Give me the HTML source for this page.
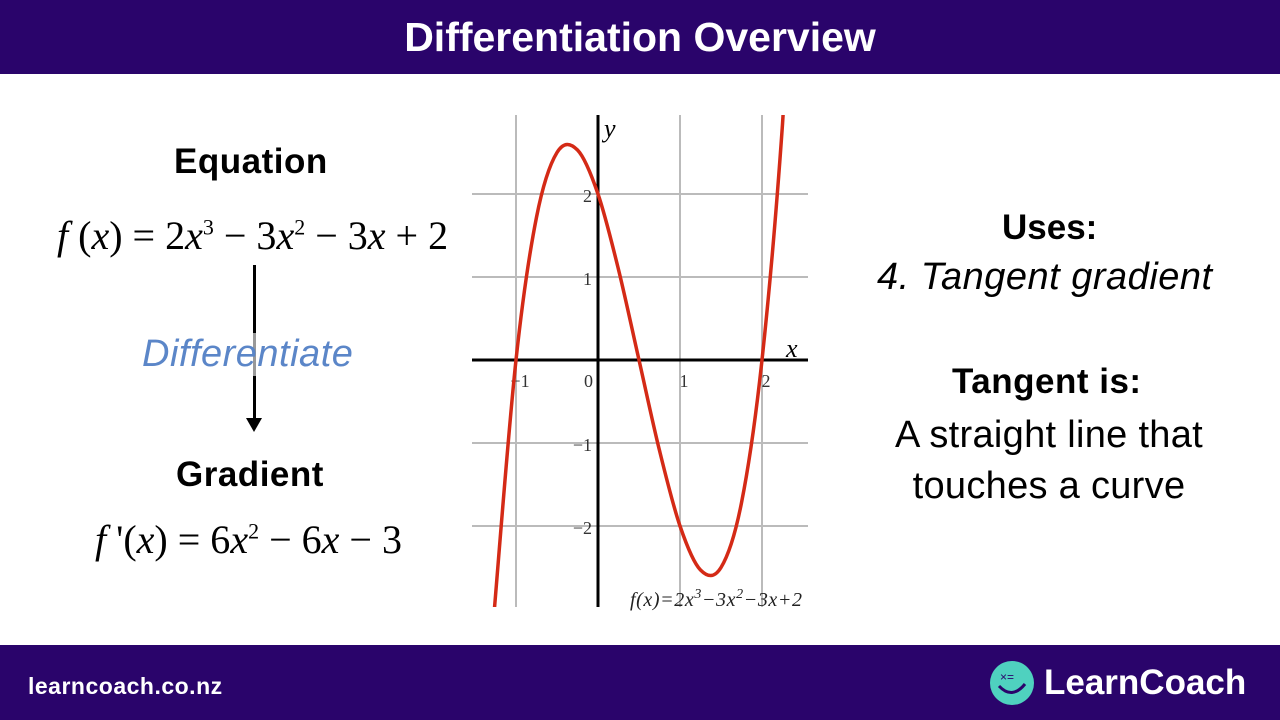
<!DOCTYPE html>
<html><head><meta charset="utf-8">
<style>
body{margin:0;width:1280px;height:720px;overflow:hidden;background:#fff;font-family:"Liberation Sans","DejaVu Sans",sans-serif;position:relative}
.hdr{position:absolute;left:0;top:0;width:1280px;height:74px;background:#2a046b;color:#fff;font-weight:bold;font-size:41px;text-align:center;line-height:74px}
.ftr{position:absolute;left:0;top:645px;width:1280px;height:75px;background:#2a046b;color:#fff}
.t{position:absolute;white-space:nowrap}
.math{font-family:"Liberation Serif",serif;font-size:40px}
</style></head><body>
<div class="hdr">Differentiation Overview</div>

<div class="t" style="left:174px;top:142px;font-size:35px;font-weight:bold;letter-spacing:0.5px">Equation</div>
<div class="t math" style="left:57px;top:212px"><i>f</i> (<i>x</i>) = 2<i>x</i><sup style="font-size:22px">3</sup> − 3<i>x</i><sup style="font-size:22px">2</sup> − 3<i>x</i> + 2</div>
<div style="position:absolute;left:253px;top:265px;width:3px;height:160px;background:#000"></div>
<div style="position:absolute;left:246px;top:418px;width:0;height:0;border-left:8px solid transparent;border-right:8px solid transparent;border-top:14px solid #000"></div>
<div class="t" style="left:142px;top:333px;font-size:38px;font-style:italic;color:#5b86c8;background:rgba(255,255,255,0.6);letter-spacing:0.5px">Differentiate</div>
<div class="t" style="left:176px;top:455px;font-size:35px;font-weight:bold;letter-spacing:0.5px">Gradient</div>
<div class="t math" style="left:95px;top:516px"><i>f</i> '(<i>x</i>) = 6<i>x</i><sup style="font-size:22px">2</sup> − 6<i>x</i> − 3</div>

<div class="t" style="left:1002px;top:208px;font-size:35px;font-weight:bold">Uses:</div>
<div class="t" style="left:877px;top:256px;font-size:38px;font-style:italic;letter-spacing:0.5px">4. Tangent gradient</div>
<div class="t" style="left:952px;top:362px;font-size:35px;font-weight:bold;letter-spacing:0.5px">Tangent is:</div>
<div class="t" style="left:869px;top:410px;font-size:38px;text-align:center;width:360px;white-space:normal;line-height:51px;letter-spacing:0.3px">A straight line that touches a curve</div>

<svg id="chart" style="position:absolute;left:0;top:0" width="1280" height="720"></svg>

<div class="ftr">
<div class="t" style="left:28px;top:28px;font-size:23px;font-weight:bold;letter-spacing:0.5px">learncoach.co.nz</div>
<svg style="position:absolute;left:989px;top:15px" width="46" height="46"><circle cx="23" cy="23" r="22" fill="#4fd1bf"/><path d="M10 26 Q23 40 36 24" stroke="#2a046b" stroke-width="3" fill="none"/><text x="11" y="21" font-size="12" fill="#2a046b">×=</text></svg>
<div class="t" style="left:1044px;top:18px;font-size:35px;font-weight:bold">LearnCoach</div>
</div>

<script>
const xs=[-1.3,-1.25,-1,-0.75,-0.5,-0.25,0,0.25,0.5,0.75,1,1.25,1.5,1.75,2,2.25,2.5];
const ys=[-3.56,-2.84,0,1.72,2.5,2.53,2,1.09,0,-1.09,-2,-2.53,-2.5,-1.72,0,2.84,7];
const xTicks=[-1,0,1,2];
const yTicks=[-2,-1,1,2];
const NS="http://www.w3.org/2000/svg";
const svg=document.getElementById('chart');
const X=v=>598+v*82, Y=v=>360-v*83;
const L=472,R=808,T=115,B=607;
function mk(tag,a){const e=document.createElementNS(NS,tag);for(const k in a)e.setAttribute(k,a[k]);svg.appendChild(e);return e;}
const defs=mk('defs',{});const cp=document.createElementNS(NS,'clipPath');cp.setAttribute('id','c');
const cr=document.createElementNS(NS,'rect');cr.setAttribute('x',L);cr.setAttribute('y',T);cr.setAttribute('width',R-L);cr.setAttribute('height',B-T);cp.appendChild(cr);defs.appendChild(cp);
xTicks.forEach(v=>{if(v===0)return;const l=mk('line',{x1:X(v),x2:X(v),y1:T,y2:B,stroke:'#bbb','stroke-width':2});
});
yTicks.forEach(v=>{const l=mk('line',{x1:L,x2:R,y1:Y(v),y2:Y(v),stroke:'#bbb','stroke-width':2});
});
let a=mk('line',{x1:L,x2:R,y1:360,y2:360,stroke:'#000','stroke-width':3});
a=mk('line',{x1:598,x2:598,y1:T,y2:B,stroke:'#000','stroke-width':3});
const fs='font-family:"Liberation Serif",serif';
xTicks.forEach(v=>{const t=mk('text',{x:X(v)-(v===0?14:-4),y:387,'font-size':18,fill:'#333',style:fs,'text-anchor':v===0?'start':'middle'});t.textContent=v<0?'−'+(-v):v;
});
yTicks.forEach(v=>{const t=mk('text',{x:592,y:Y(v)+8,'font-size':18,fill:'#333',style:fs,'text-anchor':'end'});t.textContent=v<0?'−'+(-v):v;
});
let t=mk('text',{x:786,y:357,'font-size':26,'font-style':'italic',style:fs});t.textContent='x';
t=mk('text',{x:604,y:137,'font-size':26,'font-style':'italic',style:fs});t.textContent='y';
const P=xs.map((x,i)=>[X(x),Y(ys[i])]);
let d='M'+P[0];
for(let i=0;i<P.length-1;i++){const p0=P[Math.max(0,i-1)],p1=P[i],p2=P[i+1],p3=P[Math.min(P.length-1,i+2)];
d+=` C${p1[0]+(p2[0]-p0[0])/6},${p1[1]+(p2[1]-p0[1])/6} ${p2[0]-(p3[0]-p1[0])/6},${p2[1]-(p3[1]-p1[1])/6} ${p2[0]},${p2[1]}`;}
const c=mk('path',{d:d,stroke:'#d42a16','stroke-width':3.5,fill:'none','clip-path':'url(#c)'});

t=mk('text',{x:630,y:606,'font-size':20,'font-style':'italic',style:fs,fill:'#222','letter-spacing':0.6});t.innerHTML='f(x)=2x<tspan dy="-8" font-size="14">3</tspan><tspan dy="8">−3x</tspan><tspan dy="-8" font-size="14">2</tspan><tspan dy="8">−3x+2</tspan>';

</script>
</body></html>
